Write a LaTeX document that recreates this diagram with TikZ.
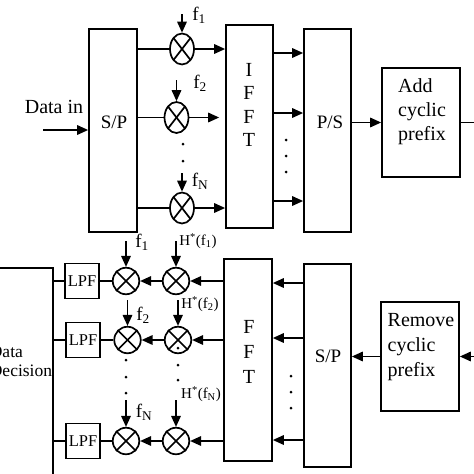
\documentclass[tikz,border=0pt]{standalone}
\usepackage{fontspec}
\setmainfont{Liberation Serif}
\usetikzlibrary{arrows.meta,shapes.geometric}
\begin{document}
\begin{tikzpicture}[x=1pt,y=-1pt,line width=1.7pt,
  blk/.style={draw,rectangle,inner sep=0pt},
  mixer/.style={draw,ellipse,inner sep=0pt,minimum width=24pt,minimum height=31pt},
  bmixer/.style={draw,circle,inner sep=0pt,minimum size=26.5pt},
  arr/.style={-{Triangle[length=11pt,width=9.5pt]}},
  txt/.style={inner sep=0pt,font=\fontsize{20}{24}\selectfont},
  flbl/.style={inner sep=0pt,font=\fontsize{19}{22}\selectfont},
  hlbl/.style={inner sep=0pt,font=\fontsize{15}{18}\selectfont},
  lpfs/.style={draw,rectangle,inner sep=0pt,minimum width=34pt,minimum height=35pt,font=\fontsize{16.5}{19}\selectfont},
  dot/.style={fill,circle,inner sep=0pt,minimum size=3pt}
]
\useasboundingbox (0,0) rectangle (474,474);
\clip (0,0) rectangle (474,474);
% ---------- transmitter ----------
\node[blk,minimum width=48pt,minimum height=203pt] (sp1) at (113,130.5) {};
\node[blk,minimum width=47pt,minimum height=203pt] (ifft) at (249.5,126.5) {};
\node[blk,minimum width=47pt,minimum height=203pt] (ps) at (327.5,130.5) {};
\node[blk,minimum width=78pt,minimum height=109pt] (add) at (421,122.5) {};
\node[txt] (datain) at (54,107) {Data in};
\node[txt,font=\fontsize{19}{22}\selectfont] (sp1t) at (114,122) {S/P};
\node[txt,align=center,font=\fontsize{20}{23.3}\selectfont] (iffttxt) at (249,105) {I\\F\\F\\T};
\node[txt,font=\fontsize{19}{22}\selectfont] (pst) at (330,122) {P/S};
\node[txt,align=left] (addt) at (422,112) {Add\\cyclic\\prefix};
\coordinate (din) at (43,130);
\draw[arr] (din) -- (din -| sp1.west);
% mixers
\node[mixer] (m1) at (182,49) {};
\node[mixer] (m2) at (176.5,117.5) {};
\node[mixer] (mN) at (182,208) {};
\foreach \m in {m1,m2,mN}{
  \draw ([shift={(-8.5,-11)}]\m.center) -- ([shift={(8.5,11)}]\m.center);
  \draw ([shift={(-8.5,11)}]\m.center) -- ([shift={(8.5,-11)}]\m.center);
}
\coordinate (m1in) at (182,14);
\coordinate (m2in) at (176.5,80);
\coordinate (mNin) at (182,173);
\draw[arr] (m1in) -- (m1.north);
\draw[arr] (m2in) -- (m2.north);
\draw[arr] (mNin) -- (mN.north);
\node[flbl] (f1t) at (199,15) {f\textsubscript{1}};
\node[flbl] (f2t) at (200,83) {f\textsubscript{2}};
\node[flbl] (fNt) at (200,181) {f\textsubscript{N}};
\draw (m1.west -| sp1.east) -- (m1.west);
\draw (m2.west -| sp1.east) -- (m2.west);
\draw (mN.west -| sp1.east) -- (mN.west);
\draw[arr] (m1.east) -- (m1.east -| ifft.west);
\draw[arr,shorten >=6pt] (m2.east) -- (m2.east -| ifft.west);
\draw[arr] (mN.east) -- (mN.east -| ifft.west);
\node[dot] (td1) at (183,144) {};
\node[dot] (td2) at (183,161) {};
% ifft -> p/s
\draw[arr] (ifft.east |- 0,53) -- (ps.west |- 0,53);
\draw[arr] (ifft.east |- 0,113) -- (ps.west |- 0,113);
\draw[arr] (ifft.east |- 0,201) -- (ps.west |- 0,201);
\node[dot] (td3) at (286,140) {};
\node[dot] (td4) at (286,156) {};
\node[dot] (td5) at (286,172) {};
\draw[arr] (ps.east |- add.west) -- (add.west);
\coordinate (outR) at (480,122.5);
\draw (add.east) -- (outR);
% ---------- receiver ----------
\node[blk,minimum width=73pt,minimum height=222pt] (dd) at (16.5,379) {};
\node[txt,align=left,anchor=west,font=\fontsize{17.5}{19}\selectfont] (ddt) at (-11,361) {Data\\Decision};
\node[lpfs] (lpf1) at (82,281) {LPF};
\node[lpfs] (lpf2) at (83,340) {LPF};
\node[lpfs] (lpf3) at (83,441) {LPF};
\node[blk,minimum width=48pt,minimum height=202pt] (fft) at (248,360) {};
\node[blk,minimum width=47pt,minimum height=203pt] (sp2) at (327.5,365.5) {};
\node[blk,minimum width=78pt,minimum height=109pt] (rem) at (420,356.5) {};
\node[txt,align=center,font=\fontsize{20}{25}\selectfont] (ffttxt) at (249,352) {F\\F\\T};
\node[txt,font=\fontsize{19}{22}\selectfont] (sp2t) at (328,356) {S/P};
\node[txt,align=left,font=\fontsize{20}{25}\selectfont] (remt) at (421,347) {Remove\\cyclic\\prefix};
\coordinate (inR) at (480,356.5);
\draw[arr] (inR) -- (rem.east);
\draw[arr] (rem.west) -- (rem.west -| sp2.east);
\draw[arr] (sp2.west |- 0,283) -- (fft.east |- 0,283);
\draw[arr] (sp2.west |- 0,338) -- (fft.east |- 0,338);
\draw[arr] (sp2.west |- 0,440) -- (fft.east |- 0,440);
\node[dot] (bd1) at (291,376) {};
\node[dot] (bd2) at (291,392) {};
\node[dot] (bd3) at (291,408) {};
% mixers
\node[bmixer] (bl1) at (126,281) {};
\node[bmixer] (br1) at (176,281) {};
\node[bmixer] (bl2) at (127.5,340) {};
\node[bmixer] (br2) at (178,340) {};
\node[bmixer] (bl3) at (126,441) {};
\node[bmixer] (br3) at (176,441) {};
\foreach \m in {bl1,br1,bl2,br2,bl3,br3}{
  \draw (\m.45) -- (\m.225);
  \draw (\m.135) -- (\m.315);
}
\foreach \r in {1,2,3}{
  \draw[arr] (br\r.west) -- (bl\r.east);
  \draw[arr] (fft.west |- br\r) -- (br\r.east);
  \draw (lpf\r.east) -- (bl\r.west);
  \draw (dd.east |- lpf\r) -- (lpf\r.west);
}
\coordinate (bl1in) at (126,241);
\coordinate (br1in) at (176,241);
\coordinate (bl2in) at (127.5,300);
\coordinate (br2in) at (178,300);
\coordinate (bl3in) at (126,400);
\coordinate (br3in) at (176,400);
\foreach \m in {bl1,br1,bl2,br2,bl3,br3}{
  \draw[arr] (\m in) -- (\m.north);
}
\node[flbl] (bf1) at (142,242) {f\textsubscript{1}};
\node[flbl] (bf2) at (143,315) {f\textsubscript{2}};
\node[flbl] (bfN) at (144,412) {f\textsubscript{N}};
\node[hlbl] (h1) at (198,241) {H\textsuperscript{*}(f\textsubscript{1})};
\node[hlbl] (h2) at (200,304) {H\textsuperscript{*}(f\textsubscript{2})};
\node[hlbl] (hN) at (201,394) {H\textsuperscript{*}(f\textsubscript{N})};
\node[dot] (ld1) at (126,360) {};
\node[dot] (ld2) at (126,377) {};
\node[dot] (ld3) at (126,393) {};
\node[dot] (rd1) at (178,348) {};
\node[dot] (rd2) at (178,365) {};
\node[dot] (rd3) at (178,380) {};
\end{tikzpicture}
\end{document}
